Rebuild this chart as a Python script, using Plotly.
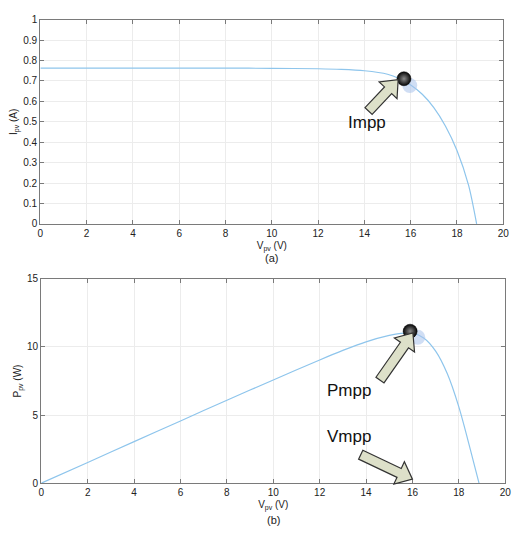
import numpy as np
import plotly.graph_objects as go

# I-V curve
v_iv = [0, 2, 4, 6, 8, 10, 12, 13, 14, 15, 15.5, 16, 16.5, 17, 17.5, 18, 18.5, 18.85]
i_pv = [0.763, 0.763, 0.763, 0.763, 0.763, 0.762, 0.760, 0.757, 0.750, 0.733, 0.712,
        0.680, 0.635, 0.570, 0.480, 0.36, 0.19, 0.0]

# P-V curve
v_pv = [0, 2, 4, 6, 8, 10, 12, 13, 14, 15, 15.5, 16, 16.5, 17, 17.5, 18, 18.5, 18.87]
p_pv = [0, 1.52, 3.05, 4.57, 6.09, 7.58, 9.05, 9.75, 10.38, 10.85, 11.0, 11.02, 10.65,
        9.7, 8.05, 5.6, 2.45, 0.0]

# maximum power point markers (ball, faded circle)
ball_a = (15.71, 0.711)
halo_a = (15.96, 0.678)
ball_b = (15.9, 11.16)
halo_b = (16.23, 10.72)

# callout arrows (tail, tip) in data units, and label positions
arrow_impp = ((14.18, 0.553), (15.46, 0.707))
arrow_pmpp = ((14.6, 7.57), (16.02, 11.03))
arrow_vmpp = ((13.77, 2.09), (16.0, 0.29))
label_impp = (14.1, 0.495)
label_pmpp = (13.26, 6.78)
label_vmpp = (13.26, 3.46)

W, H = 524, 550
# plot areas in pixels: left, right, top, bottom
box_a = (38, 509, 15, 223)
box_b = (39, 511, 279, 487)

FONT = "Liberation Sans, Arial, sans-serif"
LINE = "#8ec5ec"
GRID = "#ececec"
FRAME = "#7a7a7a"


def to_px(box, xmax, ymax):
    l, r, t, b = box
    return lambda p: (l + p[0] / xmax * (r - l), b - p[1] / ymax * (b - t))


def block_arrow(tail, tip, conv, shaft=10, head_w=25, head_len=15):
    p0 = np.array(conv(tail))
    p1 = np.array(conv(tip))
    d = (p1 - p0) / np.linalg.norm(p1 - p0)
    n = np.array([-d[1], d[0]])
    base = p1 - d * head_len
    pts = [p0 + n * shaft / 2, base + n * shaft / 2, base + n * head_w / 2, p1,
           base - n * head_w / 2, base - n * shaft / 2, p0 - n * shaft / 2]
    path = "M " + " L ".join(f"{x / W:.4f},{1 - y / H:.4f}" for x, y in pts) + " Z"
    return dict(type="path", xref="paper", yref="paper", path=path,
                fillcolor="#dde0c9", line=dict(color="#333333", width=1.2), layer="above")


fig = go.Figure()
fig.add_trace(go.Scatter(x=v_iv, y=i_pv, mode="lines", line=dict(color=LINE, width=1.2, shape="spline", smoothing=0.8),
                         xaxis="x", yaxis="y", showlegend=False))
fig.add_trace(go.Scatter(x=v_pv, y=p_pv, mode="lines", line=dict(color=LINE, width=1.2, shape="spline", smoothing=0.8),
                         xaxis="x2", yaxis="y2", showlegend=False))

for halo, ball, xa, ya in [(halo_a, ball_a, "x", "y"), (halo_b, ball_b, "x2", "y2")]:
    fig.add_trace(go.Scatter(x=[halo[0]], y=[halo[1]], mode="markers", xaxis=xa, yaxis=ya, showlegend=False,
                             marker=dict(size=15, color="rgba(170,195,235,0.55)", line=dict(width=0))))
    fig.add_trace(go.Scatter(x=[ball[0]], y=[ball[1]], mode="markers", xaxis=xa, yaxis=ya, showlegend=False,
                             marker=dict(size=14, color="#050505", gradient=dict(type="radial", color="#8a8a8a"),
                                         line=dict(width=0.5, color="#000"))))

conv_a = to_px(box_a, 20, 1)
conv_b = to_px(box_b, 20, 15)
shapes = [block_arrow(*arrow_impp, conv_a),
          block_arrow(*arrow_pmpp, conv_b),
          block_arrow(*arrow_vmpp, conv_b)]

annotations = []
for txt, pos, xa, ya in [("Impp", label_impp, "x", "y"), ("Pmpp", label_pmpp, "x2", "y2"),
                         ("Vmpp", label_vmpp, "x2", "y2")]:
    annotations.append(dict(text=txt, x=pos[0], y=pos[1], xref=xa, yref=ya, showarrow=False,
                            font=dict(family=FONT, size=17, color="#111")))
for txt, cx, cy in [("(a)", (box_a[0] + box_a[1]) / 2, 258), ("(b)", (box_b[0] + box_b[1]) / 2, 533)]:
    annotations.append(dict(text=txt, x=cx / W, y=1 - cy / H, xref="paper", yref="paper", showarrow=False,
                            font=dict(family=FONT, size=11, color="#222")))

axis_common = dict(showline=True, linecolor=FRAME, linewidth=1.3, mirror="ticks", ticks="inside",
                   ticklen=4, tickcolor=FRAME, showgrid=True, gridcolor=GRID, gridwidth=1, zeroline=False,
                   tickfont=dict(family=FONT, size=10, color="#222"))


def dom(box):
    l, r, t, b = box
    return [l / W, r / W], [1 - b / H, 1 - t / H]


xd_a, yd_a = dom(box_a)
xd_b, yd_b = dom(box_b)

fig.update_layout(
    width=W, height=H,
    margin=dict(l=0, r=0, t=0, b=0),
    paper_bgcolor="white", plot_bgcolor="white",
    font=dict(family=FONT, color="#222"),
    xaxis=dict(axis_common, domain=xd_a, anchor="y", range=[0, 20], dtick=2,
               title=dict(text="V<sub>pv</sub> (V)", font=dict(size=10), standoff=3)),
    yaxis=dict(axis_common, domain=yd_a, anchor="x", range=[0, 1], dtick=0.1,
               title=dict(text="I<sub>pv</sub> (A)", font=dict(size=10), standoff=3)),
    xaxis2=dict(axis_common, domain=xd_b, anchor="y2", range=[0, 20], dtick=2,
                title=dict(text="V<sub>pv</sub> (V)", font=dict(size=10), standoff=3)),
    yaxis2=dict(axis_common, domain=yd_b, anchor="x2", range=[0, 15], dtick=5,
                title=dict(text="P<sub>pv</sub> (W)", font=dict(size=10), standoff=3)),
    shapes=shapes,
    annotations=annotations,
)

# drop the default body margin so the 524x550 figure sits flush in the window
fig.write_html("out.html", config={"displayModeBar": False},
               post_script="document.body.style.margin='0';document.body.style.overflow='hidden';")
